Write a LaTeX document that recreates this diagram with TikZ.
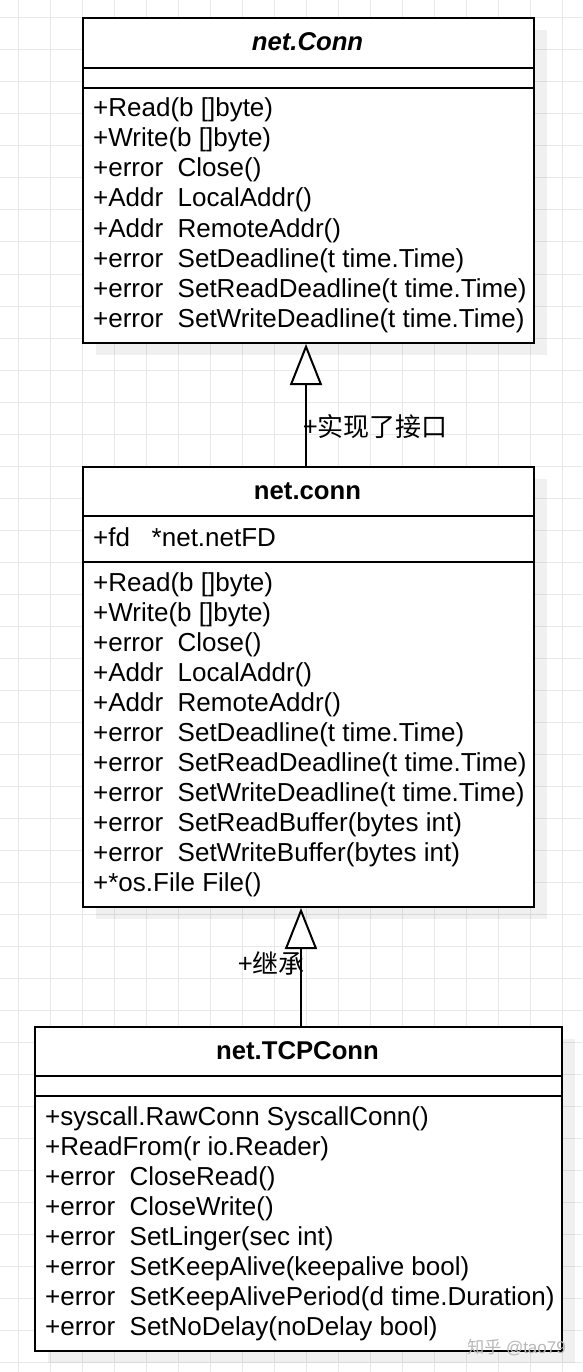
\documentclass[tikz,border=0pt]{standalone}
\usepackage{fontspec}
\setmainfont{Liberation Sans}
\newfontfamily\cjk{Noto Sans CJK SC}
\usetikzlibrary{arrows.meta,shadows}
\definecolor{gridc}{HTML}{E8E8E8}
\definecolor{wmc}{HTML}{B8B8B8}
\tikzset{
  umlbox/.style={draw, line width=2pt, fill=white, inner sep=0pt, anchor=north west,
    drop shadow={shadow xshift=13pt, shadow yshift=-12pt, fill=black, opacity=0.06}},
  sepline/.style={line width=2pt},
  gridline/.style={gridc, line width=1pt},
  meth/.style={anchor=base west, inner sep=0pt, font=\fontsize{26}{30}\selectfont},
  ttl/.style={anchor=base, inner sep=0pt, font=\fontsize{25.7}{30}\selectfont\bfseries},
  lbl/.style={inner sep=0pt, font=\fontsize{26}{30}\selectfont\cjk},
  inherit/.style={line width=2pt, -{Triangle[length=41pt,width=32pt,fill=white]}}
}
\begin{document}
\begin{tikzpicture}[x=1pt,y=-1pt]
\useasboundingbox (0,0) rectangle (582,1372);
\fill[white] (0,0) rectangle (582,1372);
\foreach \i in {0,...,17} \draw[gridline] (18+32*\i,0) -- (18+32*\i,1372);
\foreach \i in {0,...,42} \draw[gridline] (0,18+32*\i) -- (582,18+32*\i);

% ---- net.Conn ----
\node[umlbox, minimum width=451pt, minimum height=325pt] (b1) at (82,17) {};
\draw[sepline] (82,68) -- (533,68);
\draw[sepline] (82,88) -- (533,88);
\node[ttl, font=\fontsize{25.7}{30}\selectfont\bfseries\itshape] (b1t) at (307.5,51) {net.Conn};
\foreach \t [count=\i] in {
  +Read(b []byte),
  +Write(b []byte),
  +error\ \ Close(),
  +Addr\ \ LocalAddr(),
  +Addr\ \ RemoteAddr(),
  +error\ \ SetDeadline(t time.Time),
  +error\ \ SetReadDeadline(t time.Time),
  +error\ \ SetWriteDeadline(t time.Time)}
  \node[meth] (b1m\i) at (93,87+30*\i) {\t};

% ---- net.conn ----
\node[umlbox, minimum width=451pt, minimum height=440pt] (b2) at (82,466) {};
\draw[sepline] (82,516) -- (533,516);
\draw[sepline] (82,562) -- (533,562);
\node[ttl] (b2t) at (307.5,499) {net.conn};
\node[meth] (b2f) at (93,546) {+fd\ \ \ *net.netFD};
\foreach \t [count=\i] in {
  +Read(b []byte),
  +Write(b []byte),
  +error\ \ Close(),
  +Addr\ \ LocalAddr(),
  +Addr\ \ RemoteAddr(),
  +error\ \ SetDeadline(t time.Time),
  +error\ \ SetReadDeadline(t time.Time),
  +error\ \ SetWriteDeadline(t time.Time),
  +error\ \ SetReadBuffer(bytes int),
  +error\ \ SetWriteBuffer(bytes int),
  +*os.File File()}
  \node[meth] (b2m\i) at (93,561+30*\i) {\t};

% ---- net.TCPConn ----
\node[umlbox, minimum width=527pt, minimum height=324pt] (b3) at (34,1026) {};
\draw[sepline] (34,1076) -- (561,1076);
\draw[sepline] (34,1096) -- (561,1096);
\node[ttl] (b3t) at (297.5,1059) {net.TCPConn};
\foreach \t [count=\i] in {
  +syscall.RawConn SyscallConn(),
  +ReadFrom(r io.Reader),
  +error\ \ CloseRead(),
  +error\ \ CloseWrite(),
  +error\ \ SetLinger(sec int),
  +error\ \ SetKeepAlive(keepalive bool),
  +error\ \ SetKeepAlivePeriod(d time.Duration),
  +error\ \ SetNoDelay(noDelay bool)}
  \node[meth] (b3m\i) at (45,1095+30*\i) {\t};

% ---- connectors ----
\coordinate (x1) at (306,0);
\coordinate (x2) at (301,0);
\draw[inherit] (b2.north -| x1) -- (b1.south -| x1);
\draw[inherit] (b3.north -| x2) -- (b2.south -| x2);
\node[lbl, anchor=west] (l1) at (303,427) {+实现了接口};
\node[lbl, anchor=east] (l2) at (305,963) {+继承};

% ---- watermark ----
\node[anchor=base east, inner sep=0pt, text=wmc, font=\fontsize{17}{20}\selectfont] (wm) at (566,1353) {{\cjk 知乎} @tao79};
\end{tikzpicture}
\end{document}
